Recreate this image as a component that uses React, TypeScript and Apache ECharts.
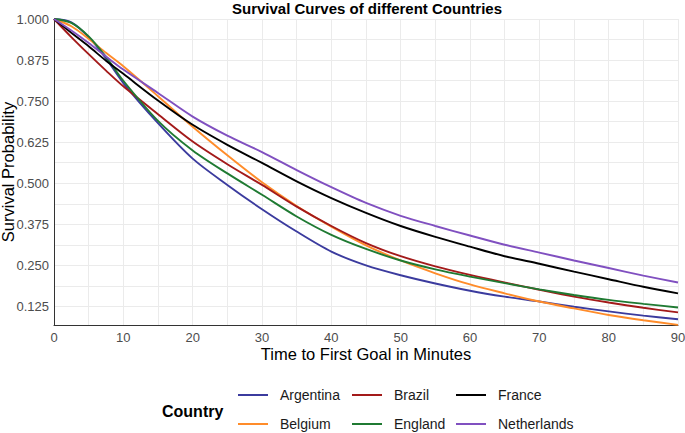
import React, { useEffect, useRef } from "react";
import * as echarts from "echarts";

// Minutes at which each survival curve is sampled
const minutes = [0, 2.5, 5, 7.5, 10, 15, 20, 25, 30, 35, 40, 45, 50, 55, 60, 65, 70, 75, 80, 85, 90];

// Survival probability per country
const argentina = [1, 0.99, 0.945, 0.88, 0.805, 0.683, 0.575, 0.495, 0.421, 0.353, 0.292, 0.25, 0.22, 0.195, 0.173, 0.155, 0.14, 0.124, 0.11, 0.097, 0.086];
const belgium = [1, 0.978, 0.94, 0.897, 0.856, 0.765, 0.672, 0.585, 0.503, 0.431, 0.368, 0.311, 0.265, 0.226, 0.192, 0.165, 0.14, 0.119, 0.099, 0.083, 0.069];
const brazil = [1, 0.945, 0.893, 0.843, 0.795, 0.71, 0.627, 0.558, 0.495, 0.429, 0.37, 0.318, 0.278, 0.247, 0.221, 0.198, 0.176, 0.155, 0.137, 0.121, 0.107];
const england = [1, 0.988, 0.947, 0.885, 0.812, 0.69, 0.6, 0.53, 0.465, 0.399, 0.343, 0.3, 0.265, 0.238, 0.216, 0.196, 0.177, 0.16, 0.145, 0.133, 0.122];
const france = [1, 0.958, 0.917, 0.873, 0.833, 0.752, 0.678, 0.617, 0.562, 0.506, 0.455, 0.41, 0.37, 0.337, 0.307, 0.278, 0.255, 0.231, 0.208, 0.185, 0.165];
const netherlands = [1, 0.965, 0.927, 0.886, 0.846, 0.775, 0.703, 0.645, 0.595, 0.54, 0.488, 0.44, 0.401, 0.37, 0.341, 0.313, 0.289, 0.265, 0.242, 0.219, 0.198];

const countries = ["Argentina", "Belgium", "Brazil", "England", "France", "Netherlands"];
const curves = [argentina, belgium, brazil, england, france, netherlands];
const colors = ["#3b3b9e", "#ff8c2a", "#a31a1a", "#1f7a32", "#000000", "#8050c0"];

// Axis tick labels and grid positions
const yTickLabels = [0.125, 0.25, 0.375, 0.5, 0.625, 0.75, 0.875, 1.0];
const yGridValues = [0.125, 0.1875, 0.25, 0.3125, 0.375, 0.4375, 0.5, 0.5625, 0.625, 0.6875, 0.75, 0.8125, 0.875, 0.9375, 1.0];

// Legend placement (two rows, three columns)
const legendCols = [238, 352, 456];
const legendRows = [388, 417];

const FONT = "'Liberation Sans', Arial, sans-serif";

export default function App() {
  const ref = useRef<HTMLDivElement>(null);

  useEffect(() => {
    document.body.style.margin = "0";
    const chart = echarts.init(ref.current!, null, { renderer: "svg" });

    const series = countries.map((name, i) => ({
      name,
      type: "line",
      smooth: 0.3,
      symbol: "none",
      lineStyle: { color: colors[i], width: 1.9 },
      itemStyle: { color: colors[i] },
      data: minutes.map((t, k) => [t, curves[i][k]]),
    }));

    const legends = countries.map((name, i) => ({
      data: [name],
      left: legendCols[Math.floor(i / 2)],
      top: legendRows[i % 2],
      padding: 0,
      icon: "rect",
      itemWidth: 30,
      itemHeight: 2,
      selectedMode: false,
      textStyle: { fontSize: 14, lineHeight: 14, color: "#1a1a1a", fontFamily: FONT, padding: [0, 0, 0, 7] },
    }));

    chart.setOption({
      animation: false,
      backgroundColor: "#ffffff",
      textStyle: { fontFamily: FONT },
      grid: { left: 54, right: 7, top: 19, bottom: 108, outerBoundsMode: "none", containLabel: false },
      xAxis: {
        type: "value",
        min: 0,
        max: 90,
        interval: 10,
        name: "Time to First Goal in Minutes",
        nameLocation: "middle",
        nameGap: 20,
        nameMoveOverlap: false,
        nameTextStyle: { fontSize: 16.5, color: "#000", fontFamily: FONT },
        axisLine: { show: true, lineStyle: { color: "#333", width: 1 } },
        axisTick: { show: false },
        axisLabel: { fontSize: 13, color: "#4d4d4d", margin: 6, fontFamily: FONT },
        splitLine: { show: true, lineStyle: { color: "#ebebeb", width: 1 } },
        minorTick: { show: false, splitNumber: 2 },
        minorSplitLine: { show: true, lineStyle: { color: "#ebebeb", width: 1 } },
      },
      yAxis: {
        type: "value",
        min: 0.0686,
        max: 1,
        name: "Survival Probability",
        nameLocation: "middle",
        nameGap: 38,
        nameRotate: 90,
        nameMoveOverlap: false,
        nameTextStyle: { fontSize: 16.5, color: "#000", fontFamily: FONT },
        axisLine: { show: true, lineStyle: { color: "#333", width: 1 } },
        axisTick: { show: false, customValues: yGridValues },
        axisLabel: {
          customValues: yTickLabels,
          fontSize: 13,
          color: "#4d4d4d",
          margin: 5,
          fontFamily: FONT,
          formatter: (v: number) => v.toFixed(3),
        },
        splitLine: { show: true, lineStyle: { color: "#ebebeb", width: 1 } },
      },
      legend: legends,
      graphic: [
        {
          type: "text",
          x: 367,
          y: 8,
          style: {
            text: "Survival Curves of different Countries",
            fontSize: 15,
            fontWeight: "bold",
            fontFamily: FONT,
            fill: "#000",
            textAlign: "center",
            textVerticalAlign: "middle",
          },
        },
        {
          type: "text",
          x: 162,
          y: 411,
          style: {
            text: "Country",
            fontSize: 16,
            fontWeight: "bold",
            fontFamily: FONT,
            fill: "#000",
            textAlign: "left",
            textVerticalAlign: "middle",
          },
        },
      ],
      series,
    });

    return () => chart.dispose();
  }, []);

  return <div ref={ref} style={{ width: 685, height: 433 }} />;
}
